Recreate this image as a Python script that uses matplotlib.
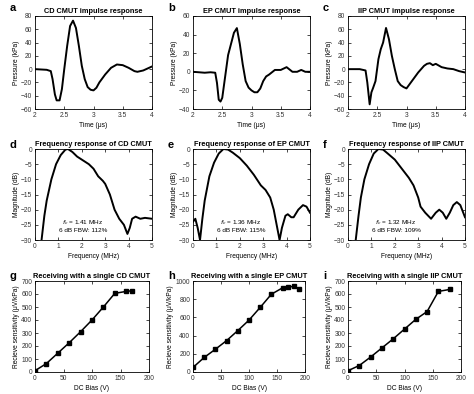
import matplotlib.pyplot as plt

plt.rcParams['font.family'] = ['Liberation Sans', 'DejaVu Sans']

# impulse responses (time in us, pressure in kPa)
t_cd = [2.0, 2.1, 2.2, 2.27, 2.3, 2.34, 2.37, 2.42, 2.46, 2.5, 2.55, 2.6, 2.65, 2.7, 2.75,
        2.8, 2.85, 2.9, 2.95, 3.0, 3.05, 3.1, 3.2, 3.3, 3.4, 3.5, 3.6, 3.7, 3.75, 3.85, 4.0]
p_cd = [0, -0.5, -1, -3, -15, -38, -47, -47, -30, 0, 35, 65, 73, 62, 35,
        5, -15, -27, -31, -32, -28, -20, -8, 2, 7, 6, 2, -3, -4, -2, 4]

t_ep = [2.0, 2.1, 2.2, 2.3, 2.38, 2.41, 2.44, 2.47, 2.5, 2.55, 2.6, 2.65, 2.7, 2.75, 2.8,
        2.85, 2.9, 2.95, 3.0, 3.05, 3.1, 3.15, 3.2, 3.25, 3.3, 3.4, 3.5, 3.6, 3.7, 3.78, 3.85, 3.92, 4.0]
p_ep = [0, -0.5, -1, -0.5, -1, -12, -30, -32, -28, -5, 18, 30, 42, 47, 30,
        8, -10, -17, -20, -22, -22, -18, -10, -5, -3, 2, 2, 5, 0, 0, 2, 0, 0]

t_iip = [2.0, 2.1, 2.2, 2.3, 2.33, 2.37, 2.4, 2.43, 2.47, 2.52, 2.56, 2.6, 2.65, 2.7, 2.75,
         2.8, 2.85, 2.9, 2.95, 3.0, 3.1, 3.2, 3.3, 3.35, 3.4, 3.45, 3.5, 3.6, 3.7, 3.8, 3.9, 4.0]
p_iip = [0, 0, 0, -2, -20, -53, -35, -28, -18, 15, 30, 40, 62, 45, 20,
         0, -18, -24, -27, -29, -17, -5, 5, 8, 9, 6, 8, 3, 1, 0, -3, -5]

# frequency responses (MHz, dB)
f_cd = [0.28, 0.4, 0.5, 0.7, 0.9, 1.1, 1.3, 1.41, 1.6, 1.8, 2.0, 2.3, 2.5, 2.7, 2.9, 3.0,
        3.2, 3.4, 3.6, 3.8, 3.95, 4.05, 4.15, 4.3, 4.5, 4.7, 5.0]
m_cd = [-30, -22, -17, -10, -5, -2, -0.2, 0, -1, -2.5, -3.5, -5, -6.5, -9, -10.5, -11.5,
        -15, -20, -23, -25, -28, -26, -23, -22.3, -23, -22.7, -23]

f_ep = [0.0, 0.1, 0.2, 0.3, 0.4, 0.5, 0.7, 0.9, 1.1, 1.3, 1.5, 1.7, 2.0, 2.3, 2.6, 2.9, 3.1,
        3.3, 3.45, 3.6, 3.7, 3.8, 3.95, 4.05, 4.2, 4.3, 4.5, 4.7, 4.85, 5.0]
m_ep = [-24, -23, -26, -30, -23, -17, -9, -4.5, -1.5, 0, -0.2, -1.2, -3, -5.5, -8.5, -12, -13.5,
        -16, -20, -26, -30, -26, -22, -21.5, -22.5, -22.5, -20, -18.5, -19, -21]

f_iip = [0.33, 0.45, 0.55, 0.7, 0.9, 1.1, 1.3, 1.5, 1.7, 2.0, 2.3, 2.6, 2.8, 3.0, 3.1, 3.3,
         3.55, 3.75, 3.9, 4.05, 4.2, 4.35, 4.5, 4.65, 4.8, 5.0]
m_iip = [-30, -22, -16, -10, -5, -1.5, 0, -0.2, -1.5, -3.5, -6.5, -9.5, -12, -16, -19, -21,
         -23, -21, -20, -21, -23, -21, -18.5, -17.5, -18.5, -22.5]

# receive sensitivity vs DC bias
v_cd = [0, 20, 40, 60, 80, 100, 120, 140, 160, 170]
s_cd = [10, 65, 145, 225, 310, 400, 500, 605, 620, 625]
v_ep = [0, 20, 40, 60, 80, 100, 120, 140, 160, 170, 180, 190]
s_ep = [50, 160, 250, 345, 455, 570, 710, 855, 925, 935, 940, 915]
v_iip = [0, 20, 40, 60, 80, 100, 120, 140, 160, 180]
s_iip = [10, 50, 115, 185, 255, 330, 405, 465, 620, 635]

W, H = 474, 394
fig = plt.figure(figsize=(W / 100, H / 100), dpi=100)

cols = [(35, 152), (193, 310), (348, 465)]
cols3 = [(35, 149), (193, 305), (348, 461)]
rows = [(16, 109), (149, 240), (281, 372)]


def make_ax(c, r):
    x0, x1 = c
    y0, y1 = r
    ax = fig.add_axes([x0 / W, 1 - y1 / H, (x1 - x0) / W, (y1 - y0) / H])
    ax.tick_params(direction='in', labelsize=4.8, length=2, width=0.5, pad=2,
                   top=True, right=True, labelcolor='#333333')
    for s in ax.spines.values():
        s.set_linewidth(0.6)
    return ax


lw = 1.4
tfs = 5.3
lfs = 4.8

# row 1
imp = [(t_cd, p_cd, 'CD CMUT impulse response', (-60, 80), range(-60, 81, 20), 'a'),
       (t_ep, p_ep, 'EP CMUT impulse response', (-40, 60), range(-40, 61, 20), 'b'),
       (t_iip, p_iip, 'IIP CMUT impulse response', (-60, 80), range(-60, 81, 20), 'c')]
for i, (x, y, title, yl, yt, lab) in enumerate(imp):
    ax = make_ax(cols[i], rows[0])
    ax.plot(x, y, color='black', lw=lw)
    ax.set_xlim(2, 4)
    ax.set_ylim(*yl)
    ax.set_xticks([2, 2.5, 3, 3.5, 4])
    ax.set_xticklabels(['2', '2.5', '3', '3.5', '4'])
    ax.set_yticks(list(yt))
    ax.set_title(title, fontsize=tfs, fontweight='bold', pad=2)
    ax.set_xlabel('Time (μs)', fontsize=lfs, labelpad=2)
    ax.set_ylabel('Pressure (kPa)', fontsize=lfs, labelpad=1)
    fig.text((cols[i][0] - 25) / W, 1 - 8 / H, lab, fontsize=8, fontweight='bold',
             va='center', ha='left')

# row 2
freq = [(f_cd, m_cd, 'Frequency response of CD CMUT', '1.41', '112%', 'd'),
        (f_ep, m_ep, 'Frequency response of EP CMUT', '1.36', '115%', 'e'),
        (f_iip, m_iip, 'Frequency response of IIP CMUT', '1.32', '109%', 'f')]
for i, (x, y, title, fc, fbw, lab) in enumerate(freq):
    ax = make_ax(cols[i], rows[1])
    ax.plot(x, y, color='black', lw=lw)
    ax.set_xlim(0, 5)
    ax.set_ylim(-30, 0)
    ax.set_xticks(range(0, 6))
    ax.set_yticks(range(-30, 1, 5))
    ax.set_title(title, fontsize=tfs, fontweight='bold', pad=2)
    ax.set_xlabel('Frequency (MHz)', fontsize=lfs, labelpad=2)
    ax.set_ylabel('Magnitude (dB)', fontsize=lfs, labelpad=1)
    ax.text(2.05, -24.3, '$f_c$ = ' + fc + ' MHz', fontsize=4.6, ha='center', va='center')
    ax.text(2.05, -27.0, '6 dB FBW: ' + fbw, fontsize=4.6, ha='center', va='center')
    fig.text((cols[i][0] - 25) / W, 1 - 145 / H, lab, fontsize=8, fontweight='bold',
             va='center', ha='left')

# row 3
rec = [(v_cd, s_cd, 'Receiving with a single CD CMUT', 700, 100, 'g'),
       (v_ep, s_ep, 'Receiving with a single EP CMUT', 1000, 200, 'h'),
       (v_iip, s_iip, 'Receiving with a single IIP CMUT', 700, 100, 'i')]
for i, (x, y, title, ymax, ystep, lab) in enumerate(rec):
    ax = make_ax(cols3[i], rows[2])
    ax.plot(x, y, color='black', lw=1.1, marker='s', markersize=2.2)
    ax.set_xlim(0, 200)
    ax.set_ylim(0, ymax)
    ax.set_xticks(range(0, 201, 50))
    ax.set_yticks(range(0, ymax + 1, ystep))
    ax.set_title(title, fontsize=tfs, fontweight='bold', pad=2)
    ax.set_xlabel('DC Bias (V)', fontsize=lfs, labelpad=2)
    ax.set_ylabel('Recieve sensitivity (μV/kPa)', fontsize=lfs, labelpad=1)
    fig.text((cols[i][0] - 25) / W, 1 - 276 / H, lab, fontsize=8, fontweight='bold',
             va='center', ha='left')

fig.savefig('out.png', dpi=100)
